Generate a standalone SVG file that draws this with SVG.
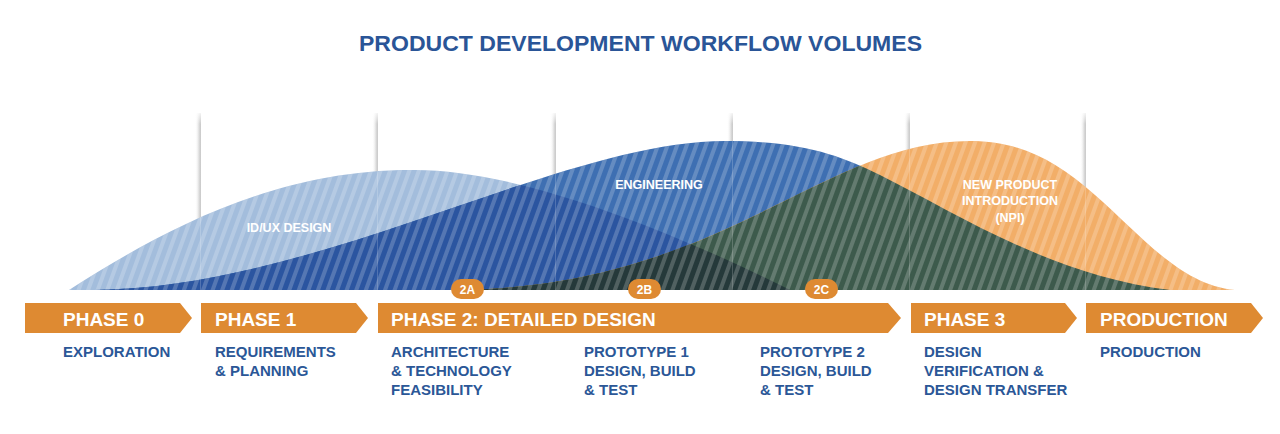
<svg xmlns="http://www.w3.org/2000/svg" xmlns:xlink="http://www.w3.org/1999/xlink" width="1280" height="434" viewBox="0 0 1280 434">
  <style>
    text { font-family: "Liberation Sans", Arial, sans-serif; font-weight: bold; }
    .title { font-size: 21.5px; fill: #2a5597; }
    .phase { font-size: 19px; fill: #ffffff; }
    .sub { font-size: 15px; fill: #2b5797; }
    .curve-label { font-size: 12.5px; fill: #ffffff; }
    .bar { fill: #de8a32; }
    .badge rect { fill: #de8a32; }
    .badge text { font-size: 12px; fill: #ffffff; text-anchor: middle; }
    .grid-shadow { fill: url(#gridGrad); }
    .grid-fade { fill: url(#fadeGrad); }
    .grid-over { stroke: #ffffff; stroke-opacity: 0.18; stroke-width: 1; }
  </style>
  <defs>
    <linearGradient id="gridGrad" x1="0" y1="0" x2="1" y2="0">
      <stop offset="0" stop-color="#ffffff" stop-opacity="0"/>
      <stop offset="0.7" stop-color="#d9d9d9"/>
      <stop offset="1" stop-color="#c8c8c8"/>
    </linearGradient>
    <linearGradient id="fadeGrad" x1="0" y1="0" x2="0" y2="1">
      <stop offset="0" stop-color="#ffffff"/>
      <stop offset="1" stop-color="#ffffff" stop-opacity="0"/>
    </linearGradient>
    <pattern id="stripes" width="9" height="9" patternUnits="userSpaceOnUse" patternTransform="rotate(20)">
      <rect width="4" height="9" fill="#ffffff" fill-opacity="0.2"/>
    </pattern>
    <path id="idux" d="M69,290 C155,235 270,170 410,170 C500,168 640,215 790,290 Z"/>
    <path id="eng" d="M95,290 C320,288 560,141 725,141 C800,141 840,155 880,175 C960,215 1050,275 1170,290 Z"/>
    <path id="npi" d="M450,290 C720,290 820,141 970,141 C1020,141 1055,160 1095,195 C1140,234 1180,285 1235,290 Z"/>
    <clipPath id="cEng"><use xlink:href="#eng"/></clipPath>
    <clipPath id="cIdux"><use xlink:href="#idux"/></clipPath>
    <clipPath id="cAll">
      <use xlink:href="#idux"/>
      <use xlink:href="#eng"/>
      <use xlink:href="#npi"/>
    </clipPath>
  </defs>

  <rect width="1280" height="434" fill="#ffffff"/>

  <text class="title" x="359" y="51" textLength="563" lengthAdjust="spacingAndGlyphs">PRODUCT DEVELOPMENT WORKFLOW VOLUMES</text>

  <g id="gridlines">
    <rect class="grid-shadow" x="195" y="113" width="6" height="177"/>
    <rect class="grid-shadow" x="372" y="113" width="6" height="177"/>
    <rect class="grid-shadow" x="550" y="113" width="6" height="177"/>
    <rect class="grid-shadow" x="727" y="113" width="6" height="177"/>
    <rect class="grid-shadow" x="904" y="113" width="6" height="177"/>
    <rect class="grid-shadow" x="1080" y="113" width="6" height="177"/>
    <rect class="grid-fade" x="190" y="110" width="900" height="14"/>
  </g>

  <g id="volumes">
    <g id="idux-curve">
      <use xlink:href="#idux" fill="#a3bddc"/>
    </g>
    <g id="eng-curve">
      <use xlink:href="#eng" fill="#3e6fb2"/>
      <g clip-path="url(#cEng)"><use xlink:href="#idux" fill="#2b55a0"/></g>
    </g>
    <g id="npi-curve">
      <use xlink:href="#npi" fill="#f2ae68"/>
      <g clip-path="url(#cEng)"><use xlink:href="#npi" fill="#3d5a4c"/></g>
      <g clip-path="url(#cEng)"><g clip-path="url(#cIdux)"><use xlink:href="#npi" fill="#25393a"/></g></g>
    </g>
    <rect x="0" y="100" width="1280" height="200" fill="url(#stripes)" clip-path="url(#cAll)"/>
    <g clip-path="url(#cAll)">
      <line class="grid-over" x1="200.5" y1="113" x2="200.5" y2="290"/>
      <line class="grid-over" x1="377.5" y1="113" x2="377.5" y2="290"/>
      <line class="grid-over" x1="555.5" y1="113" x2="555.5" y2="290"/>
      <line class="grid-over" x1="732.5" y1="113" x2="732.5" y2="290"/>
      <line class="grid-over" x1="909.5" y1="113" x2="909.5" y2="290"/>
      <line class="grid-over" x1="1085.5" y1="113" x2="1085.5" y2="290"/>
    </g>
    <text class="curve-label" x="289" y="232" text-anchor="middle">ID/UX DESIGN</text>
    <text class="curve-label" x="659" y="189" text-anchor="middle">ENGINEERING</text>
    <text class="curve-label" x="1010" y="189" text-anchor="middle">NEW PRODUCT</text>
    <text class="curve-label" x="1010" y="205" text-anchor="middle">INTRODUCTION</text>
    <text class="curve-label" x="1010" y="222" text-anchor="middle">(NPI)</text>
  </g>

  <g id="badges">
    <g class="badge" id="badge-2a"><rect x="451" y="279" width="33" height="20" rx="10"/><text x="467.5" y="293.5">2A</text></g>
    <g class="badge" id="badge-2b"><rect x="628" y="279" width="33" height="20" rx="10"/><text x="644.5" y="293.5">2B</text></g>
    <g class="badge" id="badge-2c"><rect x="805" y="279" width="33" height="20" rx="10"/><text x="821.5" y="293.5">2C</text></g>
  </g>

  <g id="phase0">
    <path class="bar" d="M25,303 H180 L192,318 L180,333 H25 Z"/>
    <text class="phase" x="63" y="326">PHASE 0</text>
    <text class="sub" x="63" y="357">EXPLORATION</text>
  </g>
  <g id="phase1">
    <path class="bar" d="M201,303 H356 L368,318 L356,333 H201 Z"/>
    <text class="phase" x="215" y="326">PHASE 1</text>
    <text class="sub" x="215" y="357">REQUIREMENTS</text>
    <text class="sub" x="215" y="376">&amp; PLANNING</text>
  </g>
  <g id="phase2">
    <path class="bar" d="M378,303 H888 L901,318 L888,333 H378 Z"/>
    <text class="phase" x="391" y="326">PHASE 2: DETAILED DESIGN</text>
    <text class="sub" x="391" y="357">ARCHITECTURE</text>
    <text class="sub" x="391" y="376">&amp; TECHNOLOGY</text>
    <text class="sub" x="391" y="395">FEASIBILITY</text>
    <text class="sub" x="584" y="357">PROTOTYPE 1</text>
    <text class="sub" x="584" y="376">DESIGN, BUILD</text>
    <text class="sub" x="584" y="395">&amp; TEST</text>
    <text class="sub" x="760" y="357">PROTOTYPE 2</text>
    <text class="sub" x="760" y="376">DESIGN, BUILD</text>
    <text class="sub" x="760" y="395">&amp; TEST</text>
  </g>
  <g id="phase3">
    <path class="bar" d="M911,303 H1065 L1077,318 L1065,333 H911 Z"/>
    <text class="phase" x="924" y="326">PHASE 3</text>
    <text class="sub" x="924" y="357">DESIGN</text>
    <text class="sub" x="924" y="376">VERIFICATION &amp;</text>
    <text class="sub" x="924" y="395">DESIGN TRANSFER</text>
  </g>
  <g id="production">
    <path class="bar" d="M1086,303 H1251 L1263,318 L1251,333 H1086 Z"/>
    <text class="phase" x="1100" y="326">PRODUCTION</text>
    <text class="sub" x="1100" y="357">PRODUCTION</text>
  </g>
</svg>
